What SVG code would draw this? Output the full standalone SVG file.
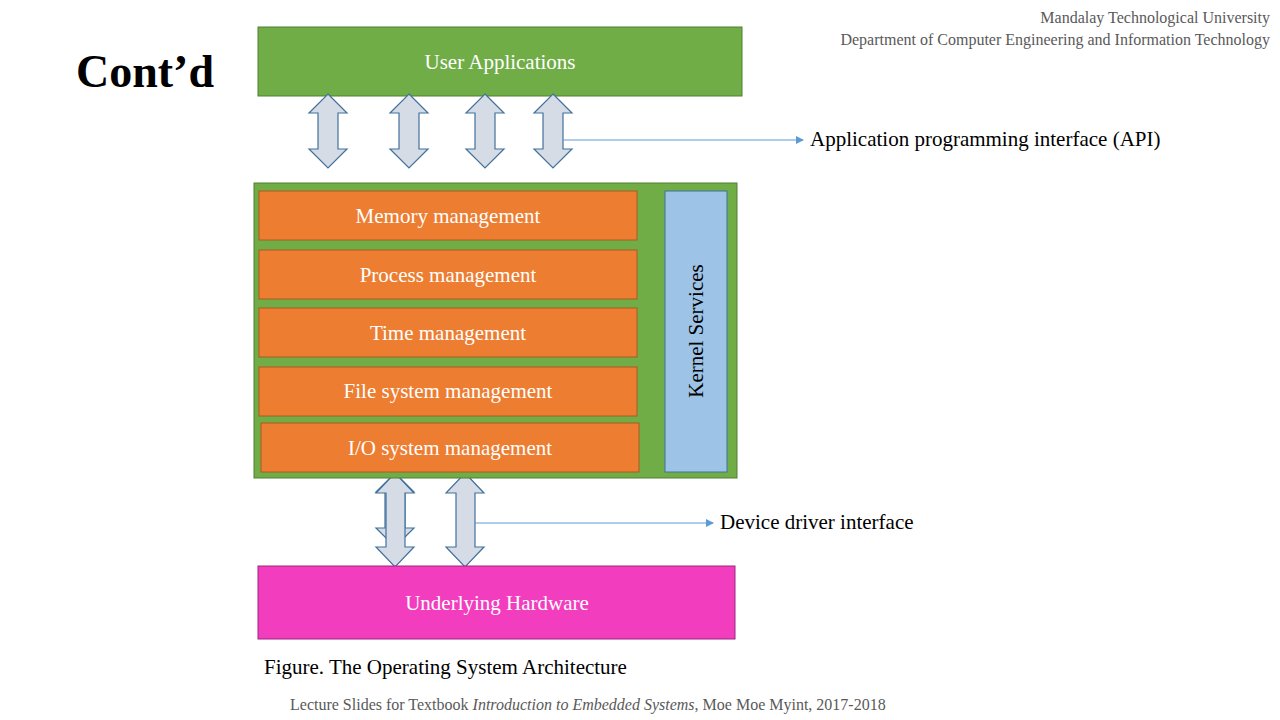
<svg xmlns="http://www.w3.org/2000/svg" width="1280" height="720" viewBox="0 0 1280 720">
<style>
text{font-family:"Liberation Serif","Times New Roman",serif}
.w{fill:#fff;font-size:21px;text-anchor:middle}
.o{fill:#ed7d31;stroke:#ae5a21;stroke-width:1}
.da{fill:#d6dce5;stroke:#41719c;stroke-width:1.2}
.k{fill:#000;font-size:21px}
</style>
<defs>
<marker id="ah" markerWidth="8" markerHeight="8" refX="7" refY="4" orient="auto" markerUnits="userSpaceOnUse"><path d="M0,0 L8,4 L0,8 z" fill="#5b9bd5"/></marker>
<path id="dbl" class="da" d="M0,0 L19,19 L10,19 L10,55 L19,55 L0,74 L-19,55 L-10,55 L-10,19 L-19,19 Z"/>
</defs>
<rect width="1280" height="720" fill="#fff"/>
<text x="1270" y="23" font-size="16" fill="#595959" text-anchor="end">Mandalay Technological University</text>
<text x="1270" y="45" font-size="16" fill="#595959" text-anchor="end">Department of Computer Engineering  and Information Technology</text>
<text x="76" y="87" font-size="46" font-weight="bold">Cont’d</text>
<g id="user-apps"><rect x="258" y="27" width="484" height="69" fill="#70ad47" stroke="#507e32"/><text class="w" x="500" y="69">User Applications</text></g>
<g id="connectors">
<use href="#dbl" x="328" y="94"/>
<use href="#dbl" x="409" y="94"/>
<use href="#dbl" x="485" y="94"/>
<use href="#dbl" x="553" y="94"/>
<line x1="563" y1="140" x2="803" y2="140" stroke="#5b9bd5" stroke-width="1" marker-end="url(#ah)"/>
<g transform="translate(0,379)"><use href="#dbl" x="395" y="94" transform="scale(1,1)"/></g>
<path class="da" d="M395,473 L414,493 L405,493 L405,547 L414,547 L395,567 L376,547 L386,547 L386,493 L376,493 Z"/>
<path class="da" d="M465,473 L484,493 L475,493 L475,547 L484,547 L465,567 L446,547 L456,547 L456,493 L446,493 Z"/>
<line x1="475" y1="523" x2="713" y2="523" stroke="#5b9bd5" stroke-width="1" marker-end="url(#ah)"/>
</g>
<text class="k" x="810" y="146">Application programming  interface (API)</text>
<text class="k" x="720" y="529">Device driver interface</text>
<g id="kernel"><rect x="254" y="183" width="483" height="295" fill="#70ad47" stroke="#507e32"/></g>
<g id="memory"><rect class="o" x="259" y="191" width="378" height="49"/><text class="w" x="448" y="223">Memory management</text></g>
<g id="process"><rect class="o" x="259" y="250" width="378" height="49"/><text class="w" x="448" y="282">Process management</text></g>
<g id="time"><rect class="o" x="259" y="308" width="378" height="49"/><text class="w" x="448" y="340">Time management</text></g>
<g id="file"><rect class="o" x="259" y="367" width="378" height="49"/><text class="w" x="448" y="398">File system management</text></g>
<g id="io"><rect class="o" x="261" y="423" width="378" height="49"/><text class="w" x="450" y="455">I/O system management</text></g>
<g id="services"><rect x="665" y="191" width="62" height="281" fill="#9dc3e6" stroke="#41719c"/><text class="k" transform="translate(703,331) rotate(-90)" text-anchor="middle">Kernel Services</text></g>
<g id="hardware"><rect x="258" y="566" width="477" height="73" fill="#f23dbf" stroke="#a0257f"/><text class="w" x="497" y="610">Underlying Hardware</text></g>
<text class="k" x="264" y="674" font-size="23">Figure. The Operating System Architecture</text>
<text x="290" y="710" font-size="16" fill="#595959">Lecture Slides for Textbook <tspan font-style="italic">Introduction to Embedded Systems</tspan>, Moe Moe Myint,  2017-2018</text>
</svg>
